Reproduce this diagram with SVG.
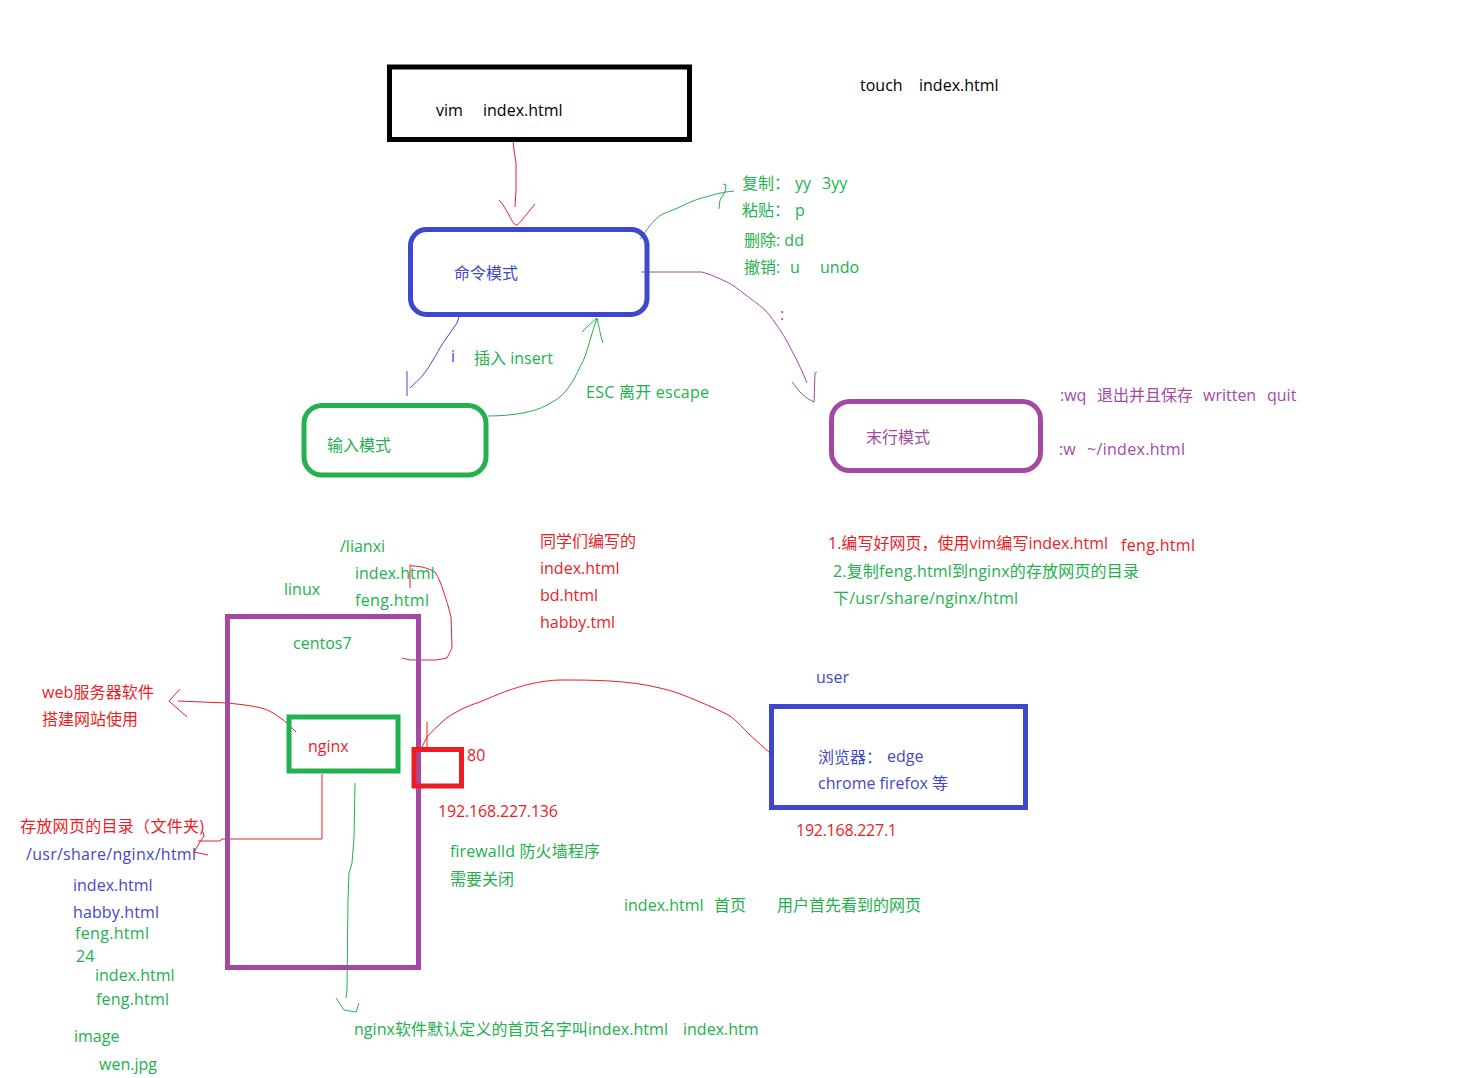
<svg xmlns="http://www.w3.org/2000/svg" width="1480" height="1078" viewBox="0 0 1480 1078">
<style>
text{font-family:"Open Sans","Noto Sans CJK SC",sans-serif;font-size:16px}
.g{fill:#22b14c}.r{fill:#ed1c24}.b{fill:#3f48cc}.p{fill:#a349a4}.k{fill:#000}
.box{fill:none;stroke-width:5}
.l{fill:none;stroke-width:1}
.lg{stroke:#22b14c}.lr{stroke:#ed1c24}.lb{stroke:#3f48cc}.lp{stroke:#a349a4}
</style>
<rect width="1480" height="1078" fill="#fff"/>
<g id="connectors" class="l">
<path class="l lr" d="M513 141L514 150L516 163L516 190L515 207M499 200C503 204 506 210 509 215C511 219 514 225 516 225C519 225 522 219 526 215L535 204"/>
<path class="l lg" d="M640 239C644 234 650 224 658 217C664 212 672 211 680 207C688 203 694 200 702 198C712 195 722 192 734 191M723 184L726 185L725 192L720 200L719 209"/>
<path class="l lb" d="M459 317L457 323C452 330 448 336 443 343C439 349 437 354 433 360C430 365 427 370 423 375C419 380 414 384 410 388M407 371V396"/>
<path class="l lg" d="M488 416C500 416 512 415 523 413C532 411 540 409 547 405C554 401 560 398 565 392C571 385 576 376 580 367C584 360 586 354 588 347C591 337 594 327 597 318M582 332C587 327 592 322 597 318C599 326 600 335 603 343"/>
<path class="l lp" d="M641 272H702C712 275 718 278 727 282C733 285 738 289 743 293C751 299 758 304 765 310C771 316 775 323 780 330C785 337 789 345 793 353C798 362 803 373 807 383M792 382C795 385 797 389 800 392C804 396 809 400 814 402L815 373L817 372"/>
<path class="l lr" d="M410 588V565L412 566C420 566 428 568 435 572C439 578 441 584 443 590C446 599 449 608 451 617L452 648L447 658L436 660H410L402 658"/>
<path class="l lr" d="M296 732L287 723C282 719 278 716 273 713C268 710 263 708 257 707C247 705 237 704 227 703L178 701M180 689L169 701L187 717"/>
<path class="l lr" d="M322 774V839H222L220 841H198M203 832L204 836L200 842L194 852L208 855"/>
<path class="l lg" d="M355 783L354 838L352 863L349 873L348 900L347 990L346 998M336 998L344 1010L356 1012L359 1003"/>
<path class="l lr" d="M771 754C764 748 757 741 750 735C744 729 737 721 730 716C721 711 710 706 700 702C686 696 674 691 660 688C644 684 627 682 610 681C594 680 577 680 560 680C550 680 540 682 530 684C513 688 496 695 480 702C473 704 466 707 460 710C453 714 447 717 442 722C437 727 431 732 427 737L422 747M427 722V748"/>
</g>
<g id="vim"><rect class="box" x="389.500" y="67" width="300" height="72.500" stroke="#000"/><text class="k" x="436" y="116">vim</text><text class="k" x="483" y="116">index.html</text></g>
<g id="command"><rect class="box" x="410.500" y="229.500" width="236.500" height="85" rx="16" stroke="#3f48cc"/><text class="b" x="454" y="279">命令模式</text></g>
<g id="insert"><rect class="box" x="304" y="405.500" width="182" height="69.500" rx="18" stroke="#22b14c"/><text class="g" x="327" y="451">输入模式</text></g>
<g id="lastline"><rect class="box" x="831.500" y="401.500" width="209" height="69" rx="18" stroke="#a349a4"/><text class="p" x="866" y="443">末行模式</text></g>
<g id="centos"><rect class="box" x="227.500" y="616.500" width="191" height="351" stroke="#a349a4"/><text class="g" x="293" y="649">centos7</text></g>
<g id="nginx"><rect class="box" x="289" y="717" width="109" height="54" stroke="#22b14c"/><text class="r" x="308" y="752">nginx</text></g>
<g id="port"><rect class="box" x="414" y="749.500" width="47.500" height="36.500" stroke="#ed1c24"/><text class="r" x="467" y="761">80</text></g>
<g id="browser"><rect class="box" x="771.500" y="706.500" width="254" height="101" stroke="#3f48cc"/><text class="b" x="818" y="763">浏览器：</text><text class="b" x="887" y="762">edge</text><text class="b" x="818" y="789">chrome firefox 等</text></g>
<g id="labels">
<text class="k" x="860" y="91">touch</text><text class="k" x="919" y="91">index.html</text>
<text class="g" x="742" y="189">复制：</text><text class="g" x="795" y="189">yy</text><text class="g" x="822" y="189">3yy</text>
<text class="g" x="742" y="216">粘贴：</text><text class="g" x="795" y="216">p</text>
<text class="g" x="744" y="246">删除: dd</text>
<text class="g" x="744" y="273">撤销:</text><text class="g" x="790" y="273">u</text><text class="g" x="820" y="273">undo</text>
<text class="p" x="780" y="320">:</text>
<text class="b" x="451" y="362">i</text>
<text class="g" x="474" y="364" textLength="79">插入 insert</text>
<text class="g" x="586" y="398" textLength="123">ESC 离开 escape</text>
<text class="p" x="1060" y="401">:wq</text><text class="p" x="1097" y="401">退出并且保存</text><text class="p" x="1203" y="401">written</text><text class="p" x="1267" y="401">quit</text>
<text class="p" x="1059" y="455">:w</text><text class="p" x="1087" y="455" textLength="98">~/index.html</text>
<text class="g" x="340" y="552">/lianxi</text>
<text class="g" x="355" y="579">index.html</text>
<text class="g" x="284" y="595">linux</text>
<text class="g" x="355" y="606" textLength="74">feng.html</text>
<text class="r" x="540" y="547">同学们编写的</text>
<text class="r" x="540" y="574">index.html</text>
<text class="r" x="540" y="601">bd.html</text>
<text class="r" x="540" y="628">habby.tml</text>
<text class="r" x="828" y="549" textLength="280">1.编写好网页，使用vim编写index.html</text><text class="r" x="1121" y="551" textLength="74">feng.html</text>
<text class="g" x="833" y="577" textLength="306">2.复制feng.html到nginx的存放网页的目录</text>
<text class="g" x="833" y="604" textLength="185">下/usr/share/nginx/html</text>
<text class="b" x="816" y="683">user</text>
<text class="r" x="42" y="698" textLength="112">web服务器软件</text>
<text class="r" x="42" y="725">搭建网站使用</text>
<text class="r" x="20" y="832" textLength="184">存放网页的目录（文件夹)</text>
<text class="b" x="26" y="860" textLength="170">/usr/share/nginx/html</text>
<text class="r" x="438" y="817" textLength="120">192.168.227.136</text>
<text class="r" x="796" y="836" textLength="101">192.168.227.1</text>
<text class="g" x="450" y="857" textLength="150">firewalld 防火墙程序</text>
<text class="g" x="450" y="885">需要关闭</text>
<text class="g" x="624" y="911">index.html</text><text class="g" x="714" y="911">首页</text><text class="g" x="777" y="911">用户首先看到的网页</text>
<text class="b" x="73" y="891">index.html</text>
<text class="b" x="73" y="918" textLength="86">habby.html</text>
<text class="g" x="75" y="939" textLength="74">feng.html</text>
<text class="g" x="76" y="962">24</text>
<text class="g" x="95" y="981">index.html</text>
<text class="g" x="96" y="1005" textLength="73">feng.html</text>
<text class="g" x="74" y="1042">image</text>
<text class="g" x="99" y="1070">wen.jpg</text>
<text class="g" x="354" y="1035" textLength="314">nginx软件默认定义的首页名字叫index.html</text><text class="g" x="683" y="1035">index.htm</text>
</g>
</svg>
